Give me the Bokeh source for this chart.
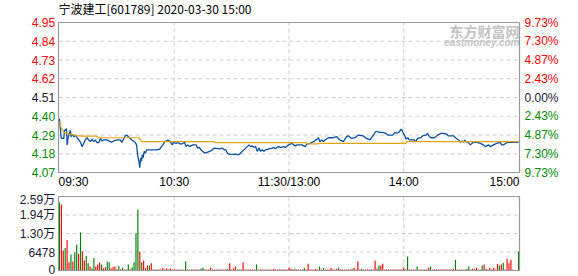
from bokeh.plotting import figure
from bokeh.models import ColumnDataSource, Range1d
from bokeh.core.properties import value
from bokeh.embed import file_html
from bokeh.resources import INLINE

# ---------------- data ----------------
title_text = "宁波建工[601789] 2020-03-30 15:00"

price_ticks = [4.95, 4.84, 4.73, 4.62, 4.51, 4.40, 4.29, 4.18, 4.07]
price_tick_labels = ["4.95", "4.84", "4.73", "4.62", "4.51", "4.40", "4.29", "4.18", "4.07"]
pct_tick_labels = ["9.73%", "7.30%", "4.87%", "2.43%", "0.00%", "2.43%", "4.87%", "7.30%", "9.73%"]

time_ticks = [0, 60, 120, 180, 240]
time_labels = ["09:30", "10:30", "11:30/13:00", "14:00", "15:00"]

vol_ticks = [0, 6478, 12956, 19434, 25912]
vol_tick_labels = ["0", "6478", "1.30万", "1.94万", "2.59万"]

# minutes since 09:30 (trading minutes) and price
price_t = [0, 0.5, 0.9, 2.3, 2.6, 3.1, 3.7, 4.0, 4.5, 5.2, 5.7, 6.1, 6.8, 7.5, 8.3, 9.2, 10.1, 11.0, 11.8, 12.7,
           13.5, 14.4, 15.3, 16.2, 17.0, 17.9, 18.8, 19.6, 20.5, 21.4, 22.2, 23.1, 24.8, 26.6, 27.4, 28.3, 30.0,
           31.8, 32.6, 33.5, 34.4, 35.2, 36.1, 37.8, 39.6, 40.3, 40.8, 41.5, 42.0, 42.4, 42.9, 43.3, 43.7, 44.3,
           45.0, 45.5, 50.7, 52.4, 53.3, 54.1, 55.0, 55.9, 56.7, 57.6, 59.0, 59.6, 61.0, 61.9, 63.6, 65.4, 66.2,
           67.1, 68.0, 69.7, 71.4, 72.3, 73.1, 74.0, 75.8, 77.5, 79.2, 81.0, 83.5, 85.2, 86.1, 86.9, 87.8, 88.7,
           93.9, 94.7, 95.6, 96.5, 97.3, 98.2, 99.1, 99.9, 100.8, 101.7, 102.5, 103.4, 104.3, 105.1, 106.0, 106.9,
           107.7, 111.2, 112.1, 112.9, 113.8, 114.7, 115.5, 117.3, 118.1, 119.0, 119.9, 121.5, 123.2, 124.1, 126.7,
           128.5, 129.4, 131.0, 132.8, 133.7, 134.5, 135.4, 136.2, 137.1, 138.0, 138.8, 140.6, 143.2, 144.9, 146.6,
           148.4, 150.1, 151.0, 152.7, 154.5, 156.1, 158.7, 160.5, 162.4, 163.8, 164.7, 165.5, 167.3, 169.0, 170.8,
           171.6, 174.2, 175.1, 176.8, 177.7, 178.6, 179.1, 179.8, 180.6, 181.1, 182.0, 182.9, 185.5, 186.3, 187.2,
           188.9, 189.8, 191.5, 192.4, 193.2, 194.1, 195.9, 196.7, 197.6, 199.3, 201.1, 202.7, 203.2, 206.1, 207.0,
           208.7, 209.6, 210.5, 211.3, 211.8, 212.5, 213.6, 214.8, 215.7, 216.5, 218.3, 220.0, 221.7, 222.6, 224.4,
           225.2, 226.9, 228.6, 230.4, 231.2, 232.1, 233.8, 235.6, 240.0]
price_v = [4.385, 4.327, 4.270, 4.270, 4.318, 4.318, 4.327, 4.232, 4.270, 4.299, 4.318, 4.280, 4.293, 4.280, 4.289,
           4.274, 4.261, 4.247, 4.222, 4.241, 4.261, 4.274, 4.261, 4.251, 4.266, 4.251, 4.261, 4.245, 4.245, 4.270,
           4.255, 4.261, 4.261, 4.251, 4.247, 4.255, 4.261, 4.261, 4.247, 4.266, 4.285, 4.289, 4.280, 4.261, 4.247,
           4.232, 4.178, 4.136, 4.098, 4.155, 4.136, 4.175, 4.155, 4.194, 4.184, 4.203, 4.203, 4.207, 4.222, 4.232,
           4.251, 4.255, 4.261, 4.255, 4.232, 4.247, 4.241, 4.245, 4.236, 4.247, 4.222, 4.232, 4.222, 4.232, 4.232,
           4.213, 4.217, 4.203, 4.184, 4.190, 4.197, 4.213, 4.209, 4.213, 4.203, 4.203, 4.184, 4.178, 4.175, 4.184,
           4.194, 4.203, 4.213, 4.222, 4.232, 4.222, 4.226, 4.218, 4.222, 4.194, 4.213, 4.194, 4.203, 4.194, 4.203,
           4.213, 4.217, 4.209, 4.217, 4.222, 4.217, 4.222, 4.217, 4.226, 4.232, 4.241, 4.226, 4.232, 4.232, 4.222,
           4.236, 4.241, 4.251, 4.259, 4.264, 4.274, 4.251, 4.261, 4.251, 4.261, 4.274, 4.274, 4.280, 4.261, 4.251,
           4.280, 4.285, 4.270, 4.274, 4.289, 4.285, 4.270, 4.261, 4.285, 4.299, 4.312, 4.305, 4.305, 4.299, 4.289,
           4.289, 4.303, 4.303, 4.308, 4.324, 4.318, 4.299, 4.285, 4.266, 4.274, 4.261, 4.261, 4.251, 4.270, 4.274,
           4.285, 4.289, 4.299, 4.285, 4.274, 4.274, 4.280, 4.289, 4.299, 4.299, 4.293, 4.285, 4.285, 4.274, 4.261,
           4.247, 4.255, 4.247, 4.261, 4.251, 4.247, 4.232, 4.241, 4.247, 4.247, 4.241, 4.232, 4.222, 4.232, 4.222,
           4.232, 4.241, 4.247, 4.232, 4.232, 4.245, 4.247, 4.247]

avg_t = [0, 0.9, 2.3, 4.0, 5.2, 7.5, 9.2, 11.8, 19.6, 20.5, 41.5, 43.0, 80.5, 81.7, 129.0, 129.5, 135.0, 135.5,
         181.0, 181.5, 240]
avg_v = [4.37, 4.33, 4.305, 4.30, 4.295, 4.29, 4.286, 4.283, 4.283, 4.274, 4.274, 4.251, 4.251, 4.245, 4.245,
         4.238, 4.238, 4.241, 4.241, 4.251, 4.251]

vol_minute = list(range(241))
volume = [
    23800, 23100, 7000, 7900, 10700, 2900, 5600, 3150, 6300, 9100, 5800, 13300, 6650, 3500, 5100, 2570, 1400, 820, 4400, 1400,
    2100, 2800, 2100, 820, 1170, 3150, 2900, 820, 1170, 1400, 470, 1630, 470, 930, 350, 350, 2100, 470, 1170, 2900,
    13070, 21350, 6650, 2900, 3500, 820, 1750, 1750, 2570, 350, 350, 350, 350, 350, 930, 350, 700, 350, 700, 350,
    350, 350, 350, 350, 350, 350, 3150, 350, 350, 350, 350, 350, 350, 350, 700, 930, 350, 350, 350, 930,
    350, 350, 350, 350, 350, 350, 350, 350, 580, 2570, 350, 700, 1400, 350, 350, 350, 2900, 350, 350, 350,
    350, 350, 350, 2100, 350, 350, 350, 350, 350, 350, 350, 350, 580, 350, 350, 350, 350, 350, 350, 350,
    930, 580, 350, 580, 350, 350, 350, 350, 930, 350, 2330, 350, 350, 350, 580, 350, 1400, 350, 930, 350,
    350, 350, 930, 350, 350, 580, 930, 350, 350, 350, 350, 350, 350, 580, 930, 350, 3150, 350, 580, 350,
    350, 350, 350, 350, 350, 3500, 580, 1750, 1750, 2330, 350, 350, 350, 350, 350, 350, 350, 350, 350, 350,
    930, 350, 4900, 350, 350, 350, 350, 1400, 350, 350, 350, 350, 350, 930, 1400, 350, 350, 350, 350, 350,
    350, 350, 350, 350, 350, 350, 580, 3730, 350, 350, 350, 350, 350, 580, 1400, 350, 580, 350, 930, 350,
    350, 1750, 2100, 580, 350, 930, 350, 930, 350, 2330, 1750, 2100, 2680, 350, 4080, 2570, 3730, 350, 0, 0,
    6650,
]
vol_dir = (
    "grrgrrgrggrgrrggrggr"
    "rrgrrggrrrggrgrggrgg"
    "ggrgrrrgrrrgrrrrrgrr"
    "rrgrrrgrrgrrrrggrrrr"
    "rrrgrrrrgrrrrrgrrrrr"
    "rrrgrrrrgrrrrrrgrrrr"
    "rrrgrrrrgrrrrrrrgrgr"
    "rrrrrrgrrrrrrgrrrrgr"
    "rrrrrrrgrrrrrrrrrrrr"
    "rrgrrrrgrrrrrrgrrrrr"
    "rrrrrrrgrgrrrggrrrrr"
    "rgrgrrrrrrgrgrrrrrrr"
    "g"
)

# ---------------- layout (pixels) ----------------
W, H = 578, 276
FRAME_L, FRAME_R = 58, 519          # frame left / right
P_TOP, P_BOT = 22, 172              # price panel
V_TOP, V_BOT = 196, 270             # volume panel
X_LO, X_HI = -0.5, 240.5            # minutes shown across the frame

RED = "#ff0000"
GREEN = "#008a00"
BAR_GREEN = "#008000"
DARK = "#1a1a33"
GRID = "#cccccc"
FRAME = "#999999"
FONT = "Liberation Sans, Noto Sans CJK SC"

# data ranges that make the figure's frame cover the whole canvas
xpp = (X_HI - X_LO) / (FRAME_R - FRAME_L)
x0 = X_LO - FRAME_L * xpp
x1 = X_HI + (W - FRAME_R) * xpp
ppp = (price_ticks[0] - price_ticks[-1]) / (P_BOT - P_TOP)
y0 = price_ticks[-1] - (H - P_BOT) * ppp
y1 = price_ticks[0] + P_TOP * ppp
vpp = vol_ticks[-1] / (V_BOT - V_TOP)
vy0 = -(H - V_BOT) * vpp
vy1 = (V_BOT - 0) * vpp

p = figure(width=W, height=H, output_backend="svg", toolbar_location=None,
           x_range=Range1d(x0, x1), y_range=Range1d(y0, y1),
           min_border=0, min_border_left=0, min_border_right=0, min_border_top=0, min_border_bottom=0)
p.extra_y_ranges = {"vol": Range1d(vy0, vy1)}
p.xaxis.visible = False
p.yaxis.visible = False
p.xgrid.visible = False
p.ygrid.visible = False
p.outline_line_color = None
p.background_fill_color = "white"
p.border_fill_color = "white"

# ---- grids (dashed) ----
inner_t = time_ticks[1:-1]
p.segment(x0=inner_t, x1=inner_t, y0=[price_ticks[-1]] * 3, y1=[price_ticks[0]] * 3,
          line_color=GRID, line_dash="4 3", line_width=1)
inner_p = price_ticks[1:-1]
p.segment(x0=[X_LO] * len(inner_p), x1=[X_HI] * len(inner_p), y0=inner_p, y1=inner_p,
          line_color=GRID, line_dash="4 3", line_width=1)
p.segment(x0=inner_t, x1=inner_t, y0=[0] * 3, y1=[vol_ticks[-1]] * 3, y_range_name="vol",
          line_color=GRID, line_dash="4 3", line_width=1)
inner_v = vol_ticks[1:-1]
p.segment(x0=[X_LO] * len(inner_v), x1=[X_HI] * len(inner_v), y0=inner_v, y1=inner_v, y_range_name="vol",
          line_color=GRID, line_dash="4 3", line_width=1)

# ---- watermark ----
p.text(x=[X_HI], y=[price_ticks[0] - 8 * ppp], text=["东方财富网"], text_align="right", text_baseline="middle",
       text_font=value("Noto Sans CJK SC"), text_font_size=value("14px"), text_font_style="bold",
       text_color="#c3c3c3")
p.text(x=[X_HI], y=[price_ticks[0] - 19.5 * ppp], text=["eastmoney.com"], text_align="right",
       text_baseline="middle", text_font=value("Liberation Sans"), text_font_size=value("10px"),
       text_font_style="bold italic", text_color="#c3c3c3")

# ---- series ----
p.line(price_t, price_v, line_color="#0a50a5", line_width=1.3)
p.line(avg_t, avg_v, line_color="#e3a414", line_width=1.2)

bar_colors = [RED if d == "r" else BAR_GREEN for d in vol_dir]
vsrc = ColumnDataSource(dict(x=vol_minute, top=volume, c=bar_colors))
p.vbar(x="x", top="top", bottom=0, width=0.6, fill_color="c", line_color=None, source=vsrc, y_range_name="vol")

# ---- frames ----
p.quad(left=[X_LO], right=[X_HI], bottom=[price_ticks[-1]], top=[price_ticks[0]],
       fill_color=None, line_color=FRAME, line_width=1.2)
p.quad(left=[X_LO], right=[X_HI], bottom=[0], top=[vol_ticks[-1]], y_range_name="vol",
       fill_color=None, line_color=FRAME, line_width=1.2)

# ---- tick labels ----
label_colors = [RED] * 4 + [DARK] + [GREEN] * 4
lx = X_LO - 3.3 * xpp
rx = X_HI + 5 * xpp
p.text(x=[lx] * 9, y=price_ticks, text=price_tick_labels, text_color=label_colors, text_align="right",
       text_baseline="middle", text_font=value(FONT), text_font_size=value("12px"))
p.text(x=[rx] * 9, y=price_ticks, text=pct_tick_labels, text_color=label_colors, text_align="left",
       text_baseline="middle", text_font=value(FONT), text_font_size=value("12px"))

ty = price_ticks[-1] - 9.7 * ppp
p.text(x=[X_LO, 60, 120, 180, X_HI], y=[ty] * 5, text=time_labels,
       text_align=["left", "center", "center", "center", "right"], text_baseline="middle",
       text_font=value(FONT), text_font_size=value("12px"), text_color="#000000")

vol_label_y = [vol_ticks[0] + 1.5 * vpp] + vol_ticks[1:-1] + [vol_ticks[-1] - 3.5 * vpp]
p.text(x=[lx] * 5, y=vol_label_y, text=vol_tick_labels, y_range_name="vol", text_align="right",
       text_baseline="middle", text_font=value(FONT), text_font_size=value("12px"), text_color=DARK)

# ---- title ----
p.text(x=[X_LO], y=[price_ticks[0] + 13.7 * ppp], text=[title_text], text_align="left", text_baseline="middle",
       text_font=value("Noto Sans CJK SC"), text_font_size=value("12px"), text_color="#000000")

open("out.html", "w").write(file_html(p, INLINE))
